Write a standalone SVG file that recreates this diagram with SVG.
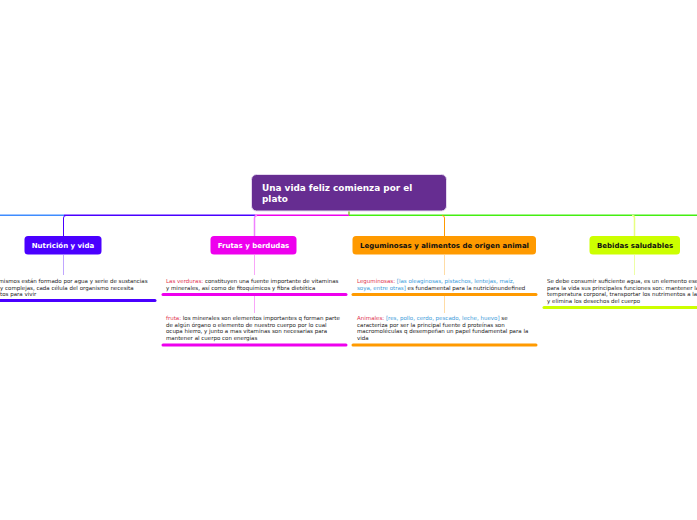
<svg xmlns="http://www.w3.org/2000/svg" width="697" height="520" viewBox="0 0 697 520">
<style>
text{font-family:"DejaVu Sans",Verdana,sans-serif}
.b{font-size:5.5px;fill:#222}
.t{font-size:7px;font-weight:700;text-anchor:middle}
.r{fill:#e0344f}.c{fill:#3a9ad9}
.n{stroke-width:1;stroke-opacity:.35;fill:none}
.l{fill:none;stroke-width:1}
.h{fill:none;stroke-width:1.500}
.u{stroke-width:3;stroke-linecap:round;fill:none}
</style>
<rect width="697" height="520" fill="#fff"/>
<g id="connectors">
<path class="h" stroke="#3f8cff" d="M0 215.200H64"/>
<path class="h" stroke="#4a00ff" d="M64 215.200H255"/>
<path class="h" stroke="#ee00ee" d="M255 215.200H349"/>
<path class="h" stroke="#44ee11" d="M349 215.200H697"/>
<path class="h" stroke="#88cc33" d="M349 211V215"/>
<path class="l" stroke="#4a00ff" d="M63.500 236V218Q63.500 215.500 66 215.500"/>
<path class="h" stroke="#f080ff" d="M254.500 236V218Q254.500 215.500 257 215.500"/>
<path class="l" stroke="#ff9a00" d="M444.500 236V218Q444.500 215.500 442 215.500"/>
<path class="h" stroke="#e8ff80" d="M634.500 236V218Q634.500 215.500 632 215.500"/>
<path class="n" stroke="#4a00ff" d="M63.500 255V275"/>
<path class="n" stroke="#ee00ee" d="M254.500 255V275M254.500 296V313"/>
<path class="n" stroke="#ff9a00" d="M444.500 255V275M444.500 296V313"/>
<path class="n" stroke="#ccff00" d="M634.500 255V275"/>
</g>
<g id="root">
<rect x="251.500" y="174.500" width="195" height="36.500" rx="5" fill="#662d91" stroke="#e4d8ee" stroke-width="1"/>
<text x="262" y="191" font-size="8.900" font-weight="700" fill="#fff">Una vida feliz comienza por el</text>
<text x="262" y="202" font-size="8.900" font-weight="700" fill="#fff">plato</text>
</g>
<g id="n1">
<rect x="24.500" y="236" width="77" height="18.500" rx="3.500" fill="#4a00ff"/>
<text class="t" x="63" y="248" fill="#fff">Nutrición y vida</text>
</g>
<g id="n2">
<rect x="210.500" y="236" width="86" height="18.500" rx="3.500" fill="#ee00ee"/>
<text class="t" x="253.500" y="248" fill="#fff">Frutas y berdudas</text>
</g>
<g id="n3">
<rect x="352.500" y="236" width="183.500" height="18.500" rx="3.500" fill="#ff9a00"/>
<text class="t" x="444.500" y="248" fill="#111">Leguminosas y alimentos de origen animal</text>
</g>
<g id="n4">
<rect x="589.500" y="236" width="90.500" height="18.500" rx="3.500" fill="#ccff00"/>
<text class="t" x="635" y="248" fill="#111">Bebidas saludables</text>
</g>
<g id="d1">
<text class="b" x="-1.500" y="283">mismos están formado por agua y serie de sustancias</text>
<text class="b" x="0" y="289.500">y complejas, cada célula del organismo necesita</text>
<text class="b" x="0" y="295.500">tos para vivir</text>
<path class="u" stroke="#4a00ff" d="M-10 300.500H155"/>
</g>
<g id="d2">
<text class="b" x="166" y="283"><tspan class="r">Las verduras:</tspan> constituyen una fuente importante de vitaminas</text>
<text class="b" x="166" y="289.500">y minerales, así como de fitoquímicos y fibra dietética</text>
<path class="u" stroke="#ee00ee" d="M163 294.500H346"/>
</g>
<g id="d3">
<text class="b" x="166" y="320"><tspan class="r">fruta:</tspan> los minerales son elementos importantes q forman parte</text>
<text class="b" x="166" y="327">de algún órgano o elemento de nuestro cuerpo por lo cual</text>
<text class="b" x="166" y="333">ocupa hierro, y junto a mas vitaminas son necesarias para</text>
<text class="b" x="166" y="340">mantener al cuerpo con energías</text>
<path class="u" stroke="#ee00ee" d="M163 345H346"/>
</g>
<g id="d4">
<text class="b" x="357" y="283"><tspan class="r">Leguminosas:</tspan> <tspan class="c">[las oleaginosas, pistachos, lentejas, maíz,</tspan></text>
<text class="b" x="357" y="289.500"><tspan class="c">soya, entre otras]</tspan> es fundamental para la nutriciónundefined</text>
<path class="u" stroke="#ff9a00" d="M353 294.500H536"/>
</g>
<g id="d5">
<text class="b" x="357" y="320"><tspan class="r">Animales:</tspan> <tspan class="c">[res, pollo, cerdo, pescado, leche, huevo]</tspan> se</text>
<text class="b" x="357" y="327">caracteriza por ser la principal fuente d proteínas son</text>
<text class="b" x="357" y="333">macromoléculas q desempeñan un papel fundamental para la</text>
<text class="b" x="357" y="340">vida</text>
<path class="u" stroke="#ff9a00" d="M353 345H536"/>
</g>
<g id="d6">
<text class="b" x="547" y="283">Se debe consumir suficiente agua, es un elemento esencial</text>
<text class="b" x="547" y="289.500">para la vida sus principales funciones son: mantener la</text>
<text class="b" x="547" y="295.500">temperatura corporal, transportar los nutrimentos a las células</text>
<text class="b" x="547" y="302.500">y elimina los desechos del cuerpo</text>
<path class="u" stroke="#ccff00" d="M544 307.500H710"/>
</g>
</svg>
